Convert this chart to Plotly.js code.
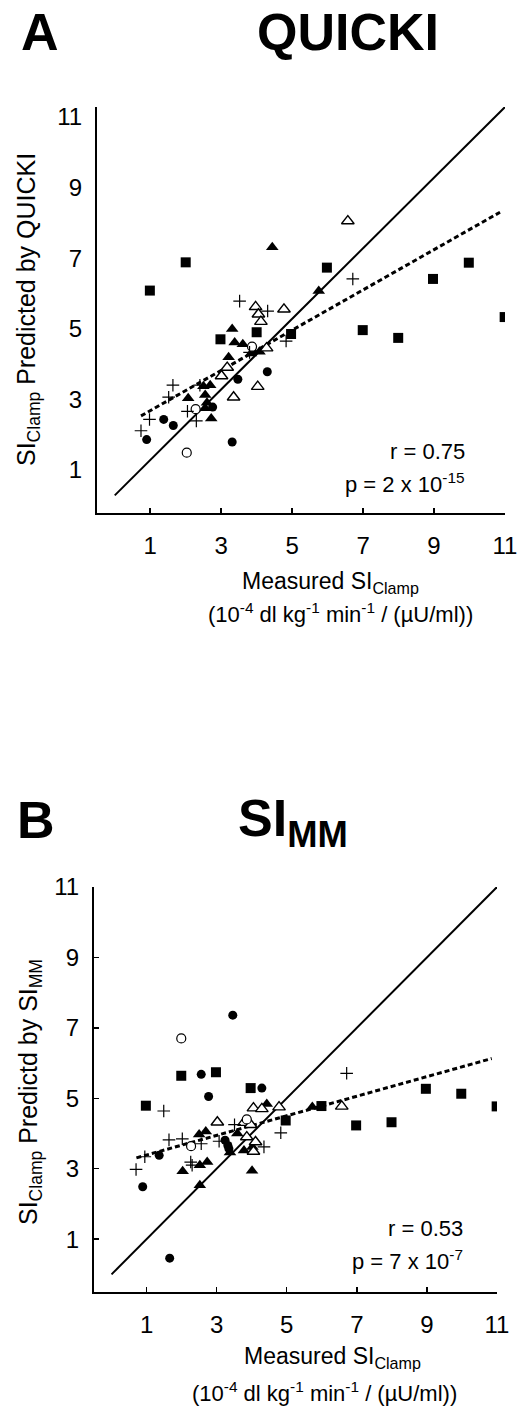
<!DOCTYPE html>
<html>
<head>
<meta charset="utf-8">
<script src="https://cdn.plot.ly/plotly-3.0.1.min.js"></script>
<style>html,body{margin:0;padding:0;background:#fff;}#chart{width:520px;height:1410px;}</style>
</head>
<body>
<div id="chart"></div>
<script>
// ---------- Panel A (QUICKI) data ----------
const tickVals = [1, 3, 5, 7, 9, 11];
const tickText = ['1', '3', '5', '7', '9', '11'];

const aSqX = [0.99, 2.0, 2.98, 4.0, 4.97, 5.98, 6.99, 7.99, 8.97, 9.98, 10.99];
const aSqY = [5.80, 6.6, 4.42, 4.62, 4.57, 6.45, 4.68, 4.46, 6.13, 6.59, 5.05];
const aTriX = [4.44, 5.75, 3.31, 3.38, 3.61, 3.21, 3.84, 4.08, 2.50, 2.69, 2.07, 2.55, 2.60, 2.55, 2.72];
const aTriY = [7.03, 5.79, 4.71, 4.33, 4.28, 3.91, 4.02, 4.07, 3.09, 3.12, 2.75, 2.84, 2.62, 2.47, 2.18];
const aOTriX = [3.97, 4.05, 4.12, 4.77, 6.57, 4.28, 3.17, 3.01, 4.03, 3.35];
const aOTriY = [5.34, 5.13, 4.92, 5.27, 7.77, 4.17, 3.62, 3.38, 3.08, 2.78];
const aCirX = [3.47, 4.30, 2.76, 1.38, 1.65, 0.90, 3.31];
const aCirY = [3.29, 3.50, 2.50, 2.15, 1.98, 1.58, 1.51];
const aOCirX = [3.87, 2.28, 2.03];
const aOCirY = [4.21, 2.44, 1.21];
const aPlusX = [3.52, 4.31, 6.71, 4.83, 1.64, 2.40, 1.52, 2.05, 0.98, 0.74, 2.30, 3.80];
const aPlusY = [5.50, 5.22, 6.13, 4.37, 3.12, 3.12, 2.78, 2.38, 2.15, 1.83, 2.11, 4.05];
const aFitX = [0.74, 10.86];
const aFitY = [2.25, 8.02];

// ---------- Panel B (SI_MM) data ----------
const bSqX = [0.98, 1.99, 2.98, 3.97, 4.97, 5.99, 6.98, 7.99, 8.97, 9.98, 10.99];
const bSqY = [4.79, 5.64, 5.74, 5.29, 4.37, 4.78, 4.23, 4.32, 5.27, 5.13, 4.77];
const bTriX = [4.43, 2.69, 2.50, 3.59, 3.38, 3.78, 4.02, 2.03, 2.52, 2.73, 4.01, 2.52, 5.73];
const bTriY = [4.84, 4.06, 3.97, 4.00, 3.46, 3.52, 3.62, 2.93, 3.10, 3.19, 2.94, 2.53, 4.75];
const bOTriX = [3.02, 4.05, 4.29, 4.78, 3.78, 3.97, 3.86, 4.11, 4.05, 6.57];
const bOTriY = [4.32, 4.72, 4.70, 4.75, 4.31, 4.25, 3.90, 3.76, 3.49, 4.77];
const bCirX = [3.46, 2.56, 2.77, 4.29, 3.24, 3.32, 3.35, 1.36, 0.89, 1.66];
const bCirY = [7.36, 5.68, 5.05, 5.29, 3.81, 3.66, 3.57, 3.38, 2.49, 0.46];
const bOCirX = [1.99, 3.86, 2.27];
const bOCirY = [6.70, 4.40, 3.64];
const bPlusX = [1.49, 3.51, 4.83, 1.64, 2.02, 2.56, 3.07, 4.35, 0.95, 0.70, 2.26, 2.30, 6.71];
const bPlusY = [4.64, 4.25, 4.02, 3.82, 3.85, 3.71, 3.78, 3.62, 3.34, 2.98, 3.19, 3.10, 5.71];
const bFitX = [0.71, 10.85];
const bFitY = [3.31, 6.13];

const identityX = [0, 11];
const identityY = [0, 11];

// ---------- helpers ----------
const W = 520, H = 1410;
const px = v => v / W;
const py = v => 1 - v / H;
const FONT = 'Liberation Sans, Arial, sans-serif';

function markerTraces(xa, ya, groups) {
  return groups.map(g => ({
    type: 'scatter', mode: 'markers', x: g.x, y: g.y, xaxis: xa, yaxis: ya,
    hoverinfo: 'skip', showlegend: false,
    marker: g.marker
  }));
}
const mSq = {symbol: 'square', size: 10, color: '#000', line: {width: 0}};
const mTri = {symbol: 'triangle-up', size: 11, color: '#000', line: {width: 0}};
const mOTri = {symbol: 'triangle-up', size: 11, color: '#fff', line: {width: 1.4, color: '#000'}};
const mCir = {symbol: 'circle', size: 9, color: '#000', line: {width: 0}};
const mOCir = {symbol: 'circle', size: 9, color: '#fff', line: {width: 1.2, color: '#000'}};
const mPlus = {symbol: 'cross-thin-open', size: 9, color: '#000', line: {width: 1.2, color: '#000'}};

function lineTraces(xa, ya, fx, fy) {
  return [
    {type: 'scatter', mode: 'lines', x: identityX, y: identityY, xaxis: xa, yaxis: ya,
     line: {color: '#000', width: 2}, hoverinfo: 'skip', showlegend: false},
    {type: 'scatter', mode: 'lines', x: fx, y: fy, xaxis: xa, yaxis: ya,
     line: {color: '#000', width: 3, dash: '5px,3px'}, hoverinfo: 'skip', showlegend: false}
  ];
}

const data = [].concat(
  lineTraces('x', 'y', aFitX, aFitY),
  markerTraces('x', 'y', [
    {x: aSqX, y: aSqY, marker: mSq}, {x: aTriX, y: aTriY, marker: mTri},
    {x: aOTriX, y: aOTriY, marker: mOTri}, {x: aCirX, y: aCirY, marker: mCir},
    {x: aOCirX, y: aOCirY, marker: mOCir}, {x: aPlusX, y: aPlusY, marker: mPlus}
  ]),
  lineTraces('x2', 'y2', bFitX, bFitY),
  markerTraces('x2', 'y2', [
    {x: bSqX, y: bSqY, marker: mSq}, {x: bTriX, y: bTriY, marker: mTri},
    {x: bOTriX, y: bOTriY, marker: mOTri}, {x: bCirX, y: bCirY, marker: mCir},
    {x: bOCirX, y: bOCirY, marker: mOCir}, {x: bPlusX, y: bPlusY, marker: mPlus}
  ])
);

function xAxis(domain, anchor) {
  return {domain: domain, anchor: anchor, range: [-0.5, 11], fixedrange: true,
    showgrid: false, zeroline: false, showline: true, linecolor: '#000', linewidth: 2,
    ticks: 'inside', ticklen: 5, tickwidth: 1.5, tickcolor: '#000',
    tickvals: tickVals, ticktext: tickText, ticklabelstandoff: 10,
    tickfont: {family: FONT, size: 24, color: '#000'}};
}
function yAxis(domain, anchor, ticksOn, shift) {
  return {domain: domain, anchor: anchor, range: [-0.5, 11], fixedrange: true,
    showgrid: false, zeroline: false, showline: true, linecolor: '#000', linewidth: 2,
    ticks: ticksOn ? 'inside' : '', ticklen: 5, tickwidth: 1.5, tickcolor: '#000',
    tickvals: tickVals, ticktext: tickText, ticklabelstandoff: 8, ticklabelshift: shift,
    tickfont: {family: FONT, size: 24, color: '#000'}};
}

function ann(text, x, y, size, opts) {
  return Object.assign({text: text, x: px(x), y: py(y), xref: 'paper', yref: 'paper',
    showarrow: false, xanchor: 'center', yanchor: 'middle',
    font: {family: FONT, size: size, color: '#000'}}, opts || {});
}

const annotations = [
  ann('<b>A</b>', 40, 32, 52),
  ann('<b>QUICKI</b>', 348, 32, 52),
  ann('SI<sub>Clamp</sub> Predicted by QUICKI', 28, 310, 25, {textangle: -90}),
  ann('Measured SI<sub>Clamp</sub>', 330, 582, 23),
  ann('(10<sup>-4</sup> dl kg<sup>-1</sup> min<sup>-1</sup> / (µU/ml))', 340, 613, 22),
  ann('r = 0.75', 467, 451, 22, {xanchor: 'right'}),
  ann('p = 2 x 10<sup>-15</sup>', 467, 483, 22, {xanchor: 'right'}),

  ann('<b>B</b>', 36, 820, 52),
  ann('<b>SI<sub>MM</sub></b>', 236, 822, 52, {xanchor: 'left'}),
  ann('SI<sub>Clamp</sub> Predictd by SI<sub>MM</sub>', 30, 1092, 25, {textangle: -90}),
  ann('Measured SI<sub>Clamp</sub>', 332, 1357, 23),
  ann('(10<sup>-4</sup> dl kg<sup>-1</sup> min<sup>-1</sup> / (µU/ml))', 324, 1392, 22),
  ann('r = 0.53', 465, 1228, 22, {xanchor: 'right'}),
  ann('p = 7 x 10<sup>-7</sup>', 465, 1260, 22, {xanchor: 'right'})
];

const layout = {
  width: W, height: H,
  margin: {l: 0, r: 0, t: 0, b: 0},
  paper_bgcolor: '#fff', plot_bgcolor: '#fff',
  font: {family: FONT, color: '#000'},
  showlegend: false,
  xaxis: xAxis([px(97), px(505)], 'y'),
  yaxis: yAxis([py(513), py(107)], 'x', false, 10),
  xaxis2: xAxis([px(94), px(497)], 'y2'),
  yaxis2: yAxis([py(1292), py(887)], 'x2', true, 0),
  annotations: annotations
};

Plotly.newPlot('chart', data, layout, {staticPlot: true, displayModeBar: false});
</script>
</body>
</html>
